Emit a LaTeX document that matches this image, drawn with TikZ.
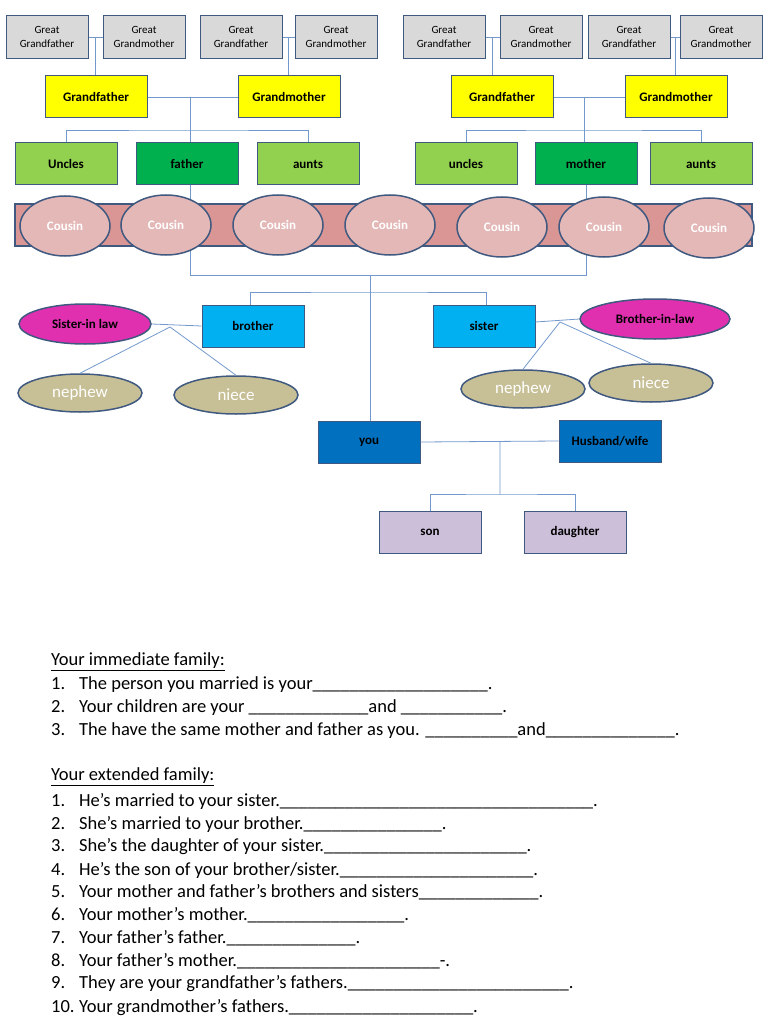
\documentclass[tikz,border=0pt]{standalone}
\usepackage{fontspec}
\setmainfont{Carlito}
\usetikzlibrary{positioning,calc,shapes.geometric}
\definecolor{cline}{rgb}{0.45,0.6,0.8}
\definecolor{cedge}{rgb}{0.25,0.35,0.5}
\definecolor{cgray}{rgb}{0.85,0.85,0.85}
\definecolor{cyel}{rgb}{1.0,1.0,0.0}
\definecolor{clgreen}{rgb}{0.57,0.82,0.31}
\definecolor{cdgreen}{rgb}{0.0,0.69,0.31}
\definecolor{cband}{rgb}{0.85,0.59,0.58}
\definecolor{ccous}{rgb}{0.9,0.72,0.72}
\definecolor{ccyan}{rgb}{0.0,0.69,0.94}
\definecolor{cblue}{rgb}{0.0,0.44,0.75}
\definecolor{cmag}{rgb}{0.88,0.19,0.69}
\definecolor{ctan}{rgb}{0.78,0.75,0.59}
\definecolor{clil}{rgb}{0.8,0.75,0.85}
\newcommand{\blank}[1]{\foreach \k in {1,...,#1}{\_}}
\newcommand{\num}[1]{\makebox[28pt][l]{#1}}
\tikzset{
  box/.style={draw=cedge,line width=1pt,minimum width=102pt,minimum height=42pt,inner sep=1pt,font=\fontsize{13}{14}\selectfont\bfseries,align=center},
  gg/.style={box,fill=cgray,minimum width=82pt,minimum height=43pt,font=\fontsize{11}{14}\selectfont},
  oval/.style={draw=cedge,line width=1.5pt,ellipse,inner sep=0pt},
  cous/.style={oval,fill=ccous,minimum width=90pt,minimum height=60pt,text=white,font=\fontsize{13}{14}\selectfont\bfseries},
  kid/.style={oval,fill=ctan,minimum width=124pt,minimum height=38pt,text=white,font=\fontsize{17}{18}\selectfont},
  link/.style={draw=cline,line width=0.8pt},
  txt/.style={anchor=west,inner sep=0pt,font=\fontsize{18.5}{20}\selectfont},
}
\begin{document}
\begin{tikzpicture}[x=1pt,y=-1pt]
\useasboundingbox (0,0) rectangle (768,1024);
%
% great grandparents
\node[gg] (gf1) at (47,37) {Great\\Grandfather};
\node[gg] (gm1) at (144,37) {Great\\Grandmother};
\node[gg] (gf2) at (241,37) {Great\\Grandfather};
\node[gg] (gm2) at (336,37) {Great\\Grandmother};
\node[gg] (gf3) at (444,37) {Great\\Grandfather};
\node[gg] (gm3) at (541,37) {Great\\Grandmother};
\node[gg] (gf4) at (629,37) {Great\\Grandfather};
\node[gg] (gm4) at (721,37) {Great\\Grandmother};
%
% grandparents
\node[box,fill=cyel] (pgf) at (96,97) {Grandfather};
\node[box,fill=cyel] (pgm) at (289,97) {Grandmother};
\node[box,fill=cyel] (mgf) at (502,97) {Grandfather};
\node[box,fill=cyel] (mgm) at (676,97) {Grandmother};
%
\coordinate (j1) at ($(gf1.east)!0.5!(gm1.west)$);
\coordinate (j2) at ($(gf2.east)!0.5!(gm2.west)$);
\coordinate (j3) at ($(gf3.east)!0.5!(gm3.west)$);
\coordinate (j4) at ($(gf4.east)!0.5!(gm4.west)$);
\draw[link] (gf1) -- (gm1) (j1) -- (j1 |- pgf.north);
\draw[link] (gf2) -- (gm2) (j2) -- (j2 |- pgm.north);
\draw[link] (gf3) -- (gm3) (j3) -- (j3 |- mgf.north);
\draw[link] (gf4) -- (gm4) (j4) -- (j4 |- mgm.north);
%
% parents and their siblings
\node[box,fill=clgreen] (unc1) at (66,164) {Uncles};
\node[box,fill=cdgreen] (dad) at (187,164) {father};
\node[box,fill=clgreen] (aun1) at (308,164) {aunts};
\node[box,fill=clgreen] (unc2) at (466,164) {uncles};
\node[box,fill=cdgreen] (mum) at (586,164) {mother};
\node[box,fill=clgreen] (aun2) at (701,164) {aunts};
%
\draw[link] (pgf) -- (pgm) (190,97) -- (190,130);
\draw[link] (unc1.north) |- (190,130) -| (aun1.north);
\draw[link] (190,130) -- (dad.north -| 190,0);
\draw[link] (mgf) -- (mgm) (584,97) -- (584,130);
\draw[link] (unc2.north) |- (584,130) -| (aun2.north);
\draw[link] (584,130) -- (mum.north -| 584,0);
%
% cousins
\draw[link] (190,185) -- (190,275) -| (586,185);
\draw[link] (370,275) -- (370,421);
\node[draw=cedge,line width=1.5pt,fill=cband,minimum width=737pt,minimum height=42pt,inner sep=0pt] (band) at (383.5,225) {};
\foreach \n/\x/\y in {1/65/226,2/166/225,3/278/225,4/390/225,5/502/227,6/604/227,7/709/228}
  \node[cous] (c\n) at (\x,\y) {Cousin};
%
% siblings
\node[box,fill=ccyan] (bro) at (253,326) {brother};
\node[box,fill=ccyan] (sis) at (484,326) {sister};
\draw[link] (bro.north -| 250,0) |- (370,292) -| (sis.north -| 486,0);
%
\node[oval,fill=cmag,minimum width=132pt,minimum height=40pt,font=\fontsize{13}{14}\selectfont\bfseries] (sil) at (85,324) {Sister-in law};
\node[kid] (nep1) at (80,393) {nephew};
\node[kid] (nie1) at (236,395) {niece};
\coordinate (k1) at (170,327);
\draw[link] (sil.east) -- (bro.west) (k1) -- (nep1.north) (k1) -- (nie1.north);
%
\node[oval,fill=cmag,minimum width=150pt,minimum height=40pt,font=\fontsize{13}{14}\selectfont\bfseries] (bil) at (655,319) {Brother-in-law};
\node[kid] (nep2) at (523,389) {nephew};
\node[kid] (nie2) at (651,383) {niece};
\coordinate (k2) at (560,322);
\draw[link] (sis.east |- k2) -- (bil.west) (k2) -- (nep2.north) (k2) -- (nie2.north);
%
% you
\node[box,fill=cblue] (you) at (369,442) {you};
\node[box,fill=cblue] (spo) at (610,441) {Husband/wife};
\node[box,fill=clil] (son) at (430,532) {son};
\node[box,fill=clil] (dau) at (575,532) {daughter};
\draw[link] (you.east) -- (spo.west) (500,441) -- (500,494);
\draw[link] (son.north) |- (500,494) -| (dau.north);
%
% questions
\node[txt] (h1) at (51,662) {\underline{Your immediate family:}};
\node[txt] (q1) at (51,685) {\num{1.}The person you married is your\blank{19}.};
\node[txt] (q2) at (51,708) {\num{2.}Your children are your \blank{13}and \blank{11}.};
\node[txt] (q3) at (51,731) {\num{3.}The have the same mother and father as you. \blank{10}and\blank{14}.};
\node[txt] (h2) at (51,777) {\underline{Your extended family:}};
\node[txt] (e1) at (51,801) {\num{1.}He’s married to your sister.\blank{34}.};
\node[txt] (e2) at (51,824) {\num{2.}She’s married to your brother.\blank{15}.};
\node[txt] (e3) at (51,847) {\num{3.}She’s the daughter of your sister.\blank{22}.};
\node[txt] (e4) at (51,870) {\num{4.}He’s the son of your brother/sister.\blank{21}.};
\node[txt] (e5) at (51,892) {\num{5.}Your mother and father’s brothers and sisters\blank{13}.};
\node[txt] (e6) at (51,915) {\num{6.}Your mother’s mother.\blank{17}.};
\node[txt] (e7) at (51,938) {\num{7.}Your father’s father.\blank{14}.};
\node[txt] (e8) at (51,961) {\num{8.}Your father’s mother.\blank{22}-.};
\node[txt] (e9) at (51,984) {\num{9.}They are your grandfather’s fathers.\blank{24}.};
\node[txt] (e10) at (51,1008) {\num{10.}Your grandmother’s fathers.\blank{20}.};
\end{tikzpicture}
\end{document}
